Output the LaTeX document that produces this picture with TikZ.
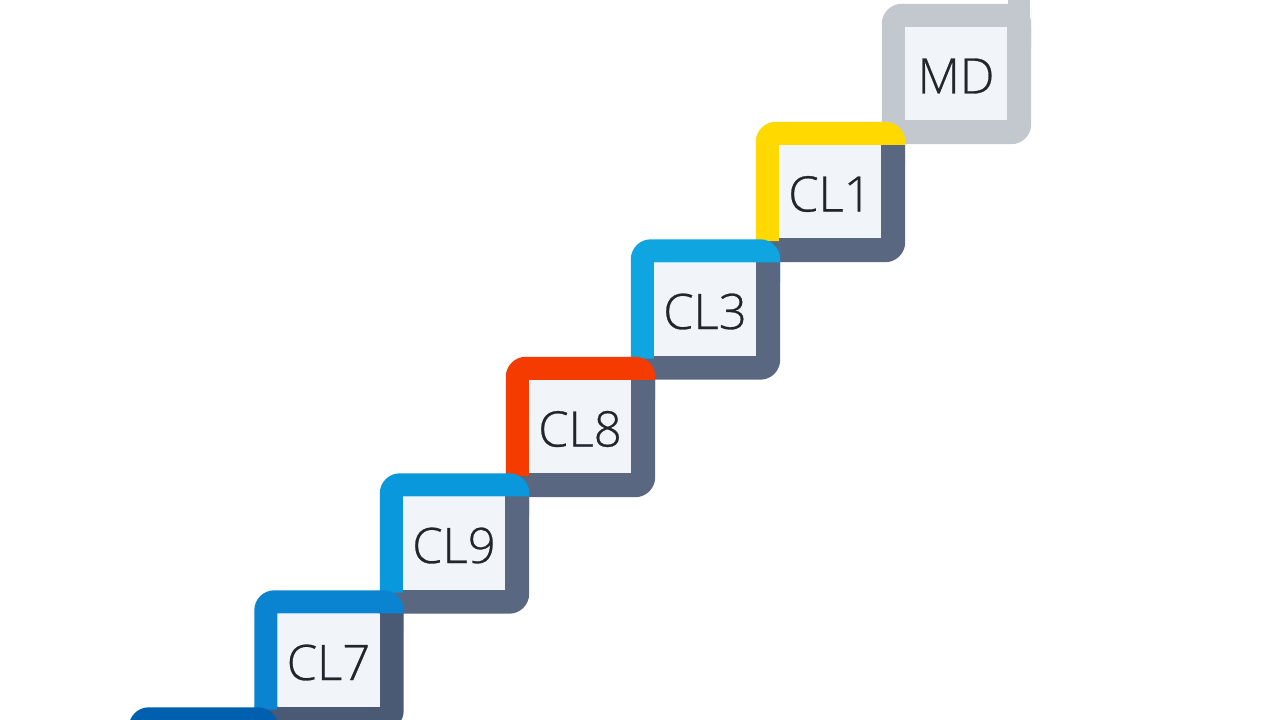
\documentclass[tikz,border=0pt]{standalone}
\usepackage{fontspec}
\setmainfont[FakeBold=0.6]{Open Sans Light}
\usetikzlibrary{calc}
\definecolor{paper}{HTML}{F1F4F9}
\definecolor{ink}{HTML}{22262C}
\definecolor{slate}{HTML}{596880}
\definecolor{slateb}{HTML}{4A5A75}
\definecolor{mist}{HTML}{C3C8CF}
\definecolor{sun}{HTML}{FFD900}
\definecolor{skya}{HTML}{0EA5E0}
\definecolor{flame}{HTML}{F53B00}
\definecolor{skyb}{HTML}{0A98DC}
\definecolor{skyc}{HTML}{0A84D0}
\definecolor{deep}{HTML}{0060B0}
\tikzset{
  x=1pt,y=-1pt,
  tile/.style={fill=paper,draw=none,minimum width=102pt,minimum height=93pt,inner sep=0pt},
  tilelabel/.style={inner sep=0pt,text=ink,font=\fontsize{49}{51}\selectfont,yshift=-2.5pt},
}
\newcommand{\stairframe}[3]{%
  % #1 node name, #2 lower-right colour, #3 upper-left colour
  \fill[#2] ($(#1.north east)+(0,-1)$) -- ($(#1.north east)+(24,-1)$)
     [rounded corners=20pt] -- ($(#1.south east)+(24,24)$)
     [sharp corners] -- ($(#1.south west)+(-23,24)$) -- ($(#1.south west)+(-23,0)$) -- (#1.south east) -- cycle;
  \fill[#3] ($(#1.south west)+(-23,3)$)
     [rounded corners=20pt] -- ($(#1.north west)+(-23,-23)$) -- ($(#1.north east)+(24,-23)$)
     -- ($(#1.north east)+(24,0)$)
     [sharp corners] -- ($(#1.north east)+(24,0.01)$) -- (#1.north west) -- ($(#1.south west)+(0,3)$) -- cycle;
}
\begin{document}
\begin{tikzpicture}
\useasboundingbox (0,0) rectangle (1280,720);
\clip (0,0) rectangle (1280,720);
\fill[white] (0,0) rectangle (1280,720);
\node[tile] (md) at (956,73.5) {};
\stairframe{md}{mist}{mist}
\fill[mist] ($(md.north east)+(1,0)$) rectangle ($(md.north east)+(23,-27)$);
\node[tile] at (md) {};
\node[tilelabel] at (md) {MD};
\node[tile] (cl1) at (830,191.5) {};
\stairframe{cl1}{slate}{sun}
\node[tile] at (cl1) {};
\node[tilelabel] at (cl1) {CL1};
\node[tile] (cl3) at (705,309) {};
\stairframe{cl3}{slate}{skya}
\node[tile] at (cl3) {};
\node[tilelabel] at (cl3) {CL3};
\node[tile] (cl8) at (580,426.5) {};
\stairframe{cl8}{slate}{flame}
\node[tile] at (cl8) {};
\node[tilelabel] at (cl8) {CL8};
\node[tile] (cl9) at (454,543) {};
\stairframe{cl9}{slate}{skyb}
\node[tile] at (cl9) {};
\node[tilelabel] at (cl9) {CL9};
\node[tile] (cl7) at (328.5,660) {};
\stairframe{cl7}{slateb}{skyc}
\node[tile] at (cl7) {};
\node[tilelabel] at (cl7) {CL7};
\node[tile] (base) at (203,777) {};
\stairframe{base}{slateb}{deep}
\end{tikzpicture}
\end{document}
